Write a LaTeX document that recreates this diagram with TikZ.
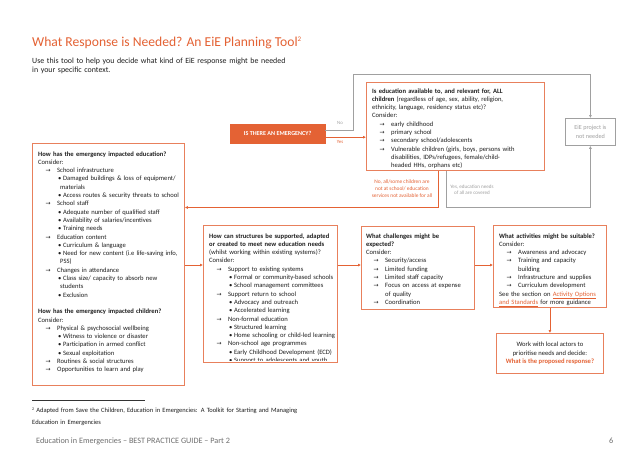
\documentclass[tikz,border=0pt]{standalone}
\usepackage{fontspec}
\setmainfont{Carlito}
\newfontfamily\symf{DejaVu Sans}
\usetikzlibrary{arrows.meta}
\definecolor{eor}{RGB}{228,98,52}
\definecolor{eborder}{RGB}{232,128,92}
\definecolor{egray}{RGB}{160,160,160}
\definecolor{etext}{RGB}{30,30,30}
\definecolor{efoot}{RGB}{110,110,110}
\newcommand\Ar[1]{\par\noindent\hspace*{7.5pt}\makebox[11.5pt][l]{{\symf\fontsize{6}{8.3}\selectfont →}}#1}
\newcommand\Ac[1]{\par\noindent\hspace*{19pt}#1}
\newcommand\Bu[1]{\par\noindent\hspace*{20pt}•\hspace{1.6pt}#1}
\newcommand\Bc[1]{\par\noindent\hspace*{22pt}#1}
\newcommand\Ln[1]{\par\noindent #1}
\tikzset{
  txt/.style={anchor=north west, inner sep=0pt, text width=#1, align=left,
    font=\fontsize{6.6}{8.3}\selectfont, text=etext},
  obox/.style={draw=eborder, line width=0.9pt, inner sep=0pt, anchor=north west},
  gbox/.style={draw=egray, line width=0.8pt, inner sep=0pt, anchor=north west},
  oline/.style={draw=eor, line width=0.8pt},
  gline/.style={draw=egray, line width=0.8pt},
  tip/.style={-{Latex[length=3pt,width=3pt]}},
  tiny/.style={inner sep=0pt, align=center, font=\fontsize{4.8}{6.4}\selectfont}
}
\begin{document}
\begin{tikzpicture}[x=1pt,y=-1pt]
\useasboundingbox (0,0) rectangle (638,451);
\fill[white] (0,0) rectangle (638,451);

% title and intro
\node[anchor=base west, inner sep=0pt, font=\fontsize{13.6}{16}\selectfont, text=eor] (title) at (32,46)
  {What Response is Needed? An EiE Planning Tool{\fontsize{7}{8}\selectfont\raisebox{4.5pt}{2}}};
\node[anchor=north west, inner sep=0pt, text width=330pt, align=left, font=\fontsize{7.9}{9.6}\selectfont, text=etext] (intro) at (32,57.5)
  {Use this tool to help you decide what kind of EiE response might be needed\\in your specific context.};

% emergency box
\node[fill=eor, draw=eor, inner sep=0pt, minimum width=95pt, minimum height=19pt, anchor=north west,
  font=\fontsize{6.1}{7}\selectfont\bfseries, text=white] (emerg) at (230,124) {IS THERE AN EMERGENCY?};

% education available box
\node[obox, minimum width=178pt, minimum height=88pt] (edu) at (366,82) {};
\node[txt=172pt] (edut) at (372,84.5) {%
\Ln{\textbf{Is education available to, and relevant for, ALL}}
\Ln{\textbf{children} (regardless of age, sex, ability, religion,}
\Ln{ethnicity, language, residency status etc)?}
\Ln{Consider:}
\Ar{early childhood}
\Ar{primary school}
\Ar{secondary school/adolescents}
\Ar{Vulnerable children (girls, boys, persons with}
\Ac{disabilities, IDPs/refugees, female/child-}
\Ac{headed HHs, orphans etc)}};

% EiE not needed
\node[gbox, minimum width=50pt, minimum height=27pt, align=center, text=egray,
  font=\fontsize{6.2}{8.5}\selectfont] (eie) at (565,118) {EiE project is\\not needed};

% left impact box
\node[obox, minimum width=152pt, minimum height=242pt] (impact) at (32,143) {};
\node[txt=146pt] (impactt) at (38,147.5) {%
\Ln{\textbf{How has the emergency impacted education?}}
\Ln{Consider:}
\Ar{School infrastructure}
\Bu{Damaged buildings \& loss of equipment/}
\Bc{materials}
\Bu{Access routes \& security threats to school}
\Ar{School staff}
\Bu{Adequate number of qualified staff}
\Bu{Availability of salaries/incentives}
\Bu{Training needs}
\Ar{Education content}
\Bu{Curriculum \& language}
\Bu{Need for new content (i.e life-saving info,}
\Bc{PSS)}
\Ar{Changes in attendance}
\Bu{Class size/ capacity to absorb new}
\Bc{students}
\Bu{Exclusion}
\Ln{\strut}
\Ln{\textbf{How has the emergency impacted children?}}
\Ln{Consider:}
\Ar{Physical \& psychosocial wellbeing}
\Bu{Witness to violence or disaster}
\Bu{Participation in armed conflict}
\Bu{Sexual exploitation}
\Ar{Routines \& social structures}
\Ar{Opportunities to learn and play}};

% structures box
\node[obox, minimum width=134pt, minimum height=137pt] (struct) at (203,225) {};
\begin{scope}
\clip (203,225) rectangle (337,360.3);
\node[txt=128pt] (structt) at (209,229.5) {%
\Ln{\textbf{How can structures be supported, adapted}}
\Ln{\textbf{or created to meet new education needs}}
\Ln{(whilst working within existing systems)?}
\Ln{Consider:}
\Ar{Support to existing systems}
\Bu{Formal or community-based schools}
\Bu{School management committees}
\Ar{Support return to school}
\Bu{Advocacy and outreach}
\Bu{Accelerated learning}
\Ar{Non-formal education}
\Bu{Structured learning}
\Bu{Home schooling or child-led learning}
\Ar{Non-school age programmes}
\Bu{Early Childhood Development (ECD)}
\Bu{Support to adolescents and youth}};
\end{scope}

% challenges box
\node[obox, minimum width=113pt, minimum height=83pt] (chal) at (361,226) {};
\node[txt=108pt] (chalt) at (366,229.5) {%
\Ln{\textbf{What challenges might be}}
\Ln{\textbf{expected?}}
\Ln{Consider:}
\Ar{Security/access}
\Ar{Limited funding}
\Ar{Limited staff capacity}
\Ar{Focus on access at expense}
\Ac{of quality}
\Ar{Coordination}};

% activities box
\node[obox, minimum width=113pt, minimum height=82pt] (act) at (493,225) {};
\node[txt=108pt] (actt) at (499,229.5) {%
\Ln{\textbf{What activities might be suitable?}}
\Ln{Consider:}
\Ar{Awareness and advocacy}
\Ar{Training and capacity}
\Ac{building}
\Ar{Infrastructure and supplies}
\Ar{Curriculum development}
\Ln{See the section on \textcolor{eor}{\underline{Activity Options}}}
\Ln{\textcolor{eor}{\underline{and Standards}} for more guidance}};

% final box
\node[obox, minimum width=107pt, minimum height=40pt, align=center, text=etext,
  font=\fontsize{6.6}{8.6}\selectfont] (final) at (496,333)
  {Work with local actors to\\prioritise needs and decide:\\\textcolor{eor}{\textbf{What is the proposed response?}}};

% connectors
\coordinate (noStart) at ([yshift=3.5pt]emerg.east);
\coordinate (yesStart) at ([yshift=-3.5pt]emerg.east);
\draw[gline,tip] (noStart) -| (353,74) -| (eie.north);
\node[tiny, text=egray, anchor=base] (nolab) at (340,124) {No};
\draw[oline,tip] (yesStart) -- (yesStart -| edu.west);
\node[tiny, text=eor, anchor=base] (yeslab) at (340,143.5) {Yes};

\coordinate (noEdu) at ([xshift=72pt]edu.south west);
\coordinate (yesEdu) at ([xshift=80pt]edu.south west);
\draw[oline,tip] (noEdu) |- (impact.east |- 0,207.5);
\node[tiny, text=eor, anchor=north, font=\fontsize{5.4}{6.6}\selectfont] (nolab2) at (402,180)
  {No, all/some children are\\not at school/ education\\services not available for all};
\draw[gline,tip] (yesEdu) |- (eie.south |- 0,207.5) -- (eie.south);
\node[tiny, text=egray, anchor=north, font=\fontsize{5.1}{6.6}\selectfont] (yeslab2) at (472,184.5)
  {Yes, education needs\\of all are covered};

\draw[oline,tip] (impact.east |- 0,265) -- (struct.west |- 0,265);
\draw[oline,tip] (struct.east |- 0,265) -- (chal.west |- 0,265);
\draw[oline,tip] (chal.east |- 0,265) -- (act.west |- 0,265);
\draw[oline,tip] (act.south) -- (final.north);

% footnote and footer
\draw[black!80, line width=0.5pt] (32,400) coordinate (fr1) -- (145,400) coordinate (fr2);
\node[anchor=north west, inner sep=0pt, text width=340pt, align=left, font=\fontsize{6.5}{11.5}\selectfont, text=etext] (fnote) at (32,407.5)
  {{\fontsize{4}{5}\selectfont\raisebox{2.5pt}{2}} Adapted from Save the Children, Education in Emergencies: A Toolkit for Starting and Managing\\Education in Emergencies};
\node[anchor=base west, inner sep=0pt, font=\fontsize{8.2}{9}\selectfont, text=efoot] (footer) at (36,443)
  {Education in Emergencies – BEST PRACTICE GUIDE – Part 2};
\node[anchor=base west, inner sep=0pt, font=\fontsize{8.2}{9}\selectfont, text=efoot] (pnum) at (609,443) {6};
\end{tikzpicture}
\end{document}
